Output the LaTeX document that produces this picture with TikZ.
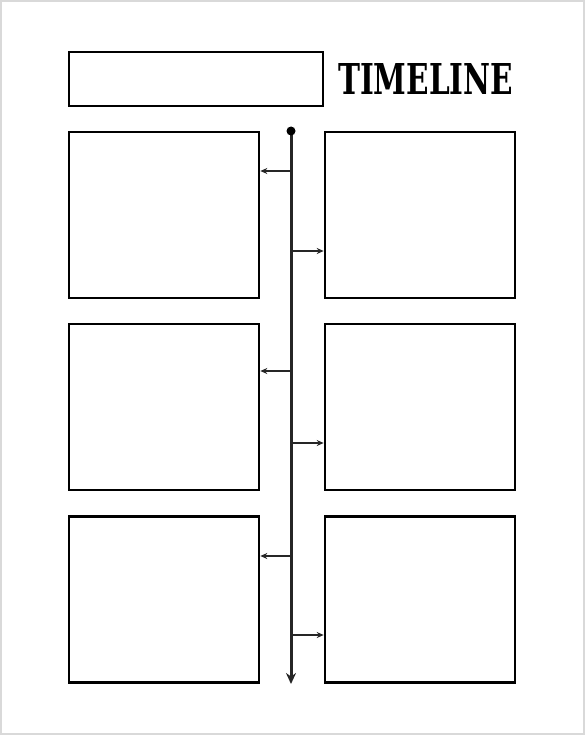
\documentclass[tikz,border=0pt]{standalone}
\usepackage{fontspec}
\usetikzlibrary{arrows.meta}
\newfontfamily\slabfont{DejaVu Serif}[BoldFont={DejaVu Serif Bold}]
\begin{document}
\begin{tikzpicture}[x=1pt,y=-1pt,
  card/.style={draw=black,line width=2.6pt,inner sep=0pt},
  branch/.style={line width=2pt,draw=black!85,-{Stealth[length=7pt,width=6pt]}},
  spine/.style={line width=3pt,draw=black!85}]
\useasboundingbox (0,0) rectangle (585,735);
\draw[black!15,line width=1.5pt] (1,1) rectangle (584,734);
% title box
\node[card,minimum width=254pt,minimum height=54pt] (title) at (196,79) {};
\node[inner sep=0pt,anchor=west] (tl) at (338,79) {\resizebox{175pt}{31pt}{\slabfont\bfseries TIMELINE}};
% cards
\foreach \n/\x/\y in {L1/164/215, L2/164/407, L3/164/599.5, R1/420/215, R2/420/407, R3/420/599.5}{
  \node[card,minimum width=190pt,minimum height=166pt] (\n) at (\x,\y) {};
}
% spine
\coordinate (top) at (291,131);
\coordinate (bot) at (291,684);
\draw[spine,-{Stealth[length=11pt,width=10pt]}] (top) -- (bot);
\fill[black] (top) circle (4.5pt);
% branches
\foreach \n/\y in {L1/171, L2/371, L3/556}{
  \coordinate (s\n) at (291,\y);
  \draw[branch] (s\n) -- (\n.east |- s\n);
}
\foreach \n/\y in {R1/251, R2/443, R3/635}{
  \coordinate (s\n) at (291,\y);
  \draw[branch] (s\n) -- (\n.west |- s\n);
}
\end{tikzpicture}
\end{document}
